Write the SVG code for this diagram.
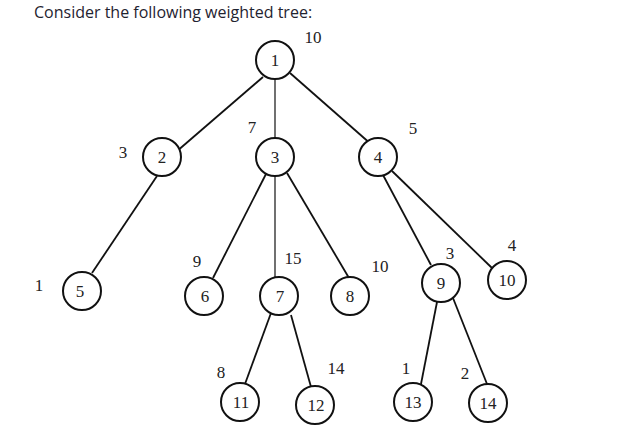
<svg xmlns="http://www.w3.org/2000/svg" width="626" height="431" viewBox="0 0 626 431">
<style>
.title{font-family:"Open Sans","Noto Sans",sans-serif;font-size:16px;fill:#1f2330}
.node circle{fill:#fff;stroke:#111;stroke-width:2}
.node text{font-family:"Liberation Serif","DejaVu Serif",serif;font-size:17px;fill:#222;text-anchor:middle}
.w{font-family:"Liberation Serif","DejaVu Serif",serif;font-size:17px;fill:#222;text-anchor:middle}
#edges line{stroke:#111;stroke-width:1.8}
</style>
<rect width="626" height="431" fill="#fff"/>
<text class="title" x="34" y="18">Consider the following weighted tree:</text>
<g id="edges">
<line x1="263" y1="77" x2="176" y2="152"/>
<line x1="275" y1="79" x2="275" y2="138" style="stroke-width:1.2"/>
<line x1="290" y1="73" x2="372" y2="145"/>
<line x1="157" y1="176" x2="92" y2="273"/>
<line x1="266" y1="174" x2="213" y2="278"/>
<line x1="275" y1="176" x2="275" y2="278" style="stroke-width:1.2"/>
<line x1="287" y1="173" x2="349" y2="278"/>
<line x1="383" y1="175" x2="431" y2="265"/>
<line x1="392" y1="171" x2="492" y2="268"/>
<line x1="271" y1="313" x2="245" y2="384"/>
<line x1="291" y1="315" x2="311" y2="387"/>
<line x1="437" y1="302" x2="421" y2="384"/>
<line x1="453" y1="298" x2="487" y2="384"/>
</g>
<g id="n1" class="node"><circle cx="275" cy="60" r="19"/><text x="275" y="66">1</text></g>
<g id="n2" class="node"><circle cx="162" cy="157" r="19"/><text x="162" y="163">2</text></g>
<g id="n3" class="node"><circle cx="275" cy="157" r="19"/><text x="275" y="163">3</text></g>
<g id="n4" class="node"><circle cx="378" cy="157" r="19"/><text x="378" y="163">4</text></g>
<g id="n5" class="node"><circle cx="82" cy="291" r="19"/><text x="80" y="297">5</text></g>
<g id="n6" class="node"><circle cx="204" cy="296" r="19"/><text x="205" y="302">6</text></g>
<g id="n7" class="node"><circle cx="279" cy="296" r="19"/><text x="280" y="302">7</text></g>
<g id="n8" class="node"><circle cx="350" cy="296" r="19"/><text x="350" y="302">8</text></g>
<g id="n9" class="node"><circle cx="441" cy="283" r="19"/><text x="441" y="289">9</text></g>
<g id="n10" class="node"><circle cx="507" cy="280" r="19"/><text x="507" y="286">10</text></g>
<g id="n11" class="node"><circle cx="240" cy="402" r="19"/><text x="241" y="408">11</text></g>
<g id="n12" class="node"><circle cx="315" cy="405" r="19"/><text x="316" y="411">12</text></g>
<g id="n13" class="node"><circle cx="413" cy="402" r="19"/><text x="413" y="408">13</text></g>
<g id="n14" class="node"><circle cx="488" cy="403" r="19"/><text x="488" y="409">14</text></g>
<g id="weights">
<text class="w" x="313" y="43">10</text>
<text class="w" x="252" y="133">7</text>
<text class="w" x="123" y="158">3</text>
<text class="w" x="413" y="134">5</text>
<text class="w" x="39" y="291">1</text>
<text class="w" x="197" y="267">9</text>
<text class="w" x="293" y="264">15</text>
<text class="w" x="380" y="272">10</text>
<text class="w" x="450" y="259">3</text>
<text class="w" x="512" y="251">4</text>
<text class="w" x="221" y="378">8</text>
<text class="w" x="336" y="374">14</text>
<text class="w" x="406" y="374">1</text>
<text class="w" x="465" y="379">2</text>
</g>
</svg>
